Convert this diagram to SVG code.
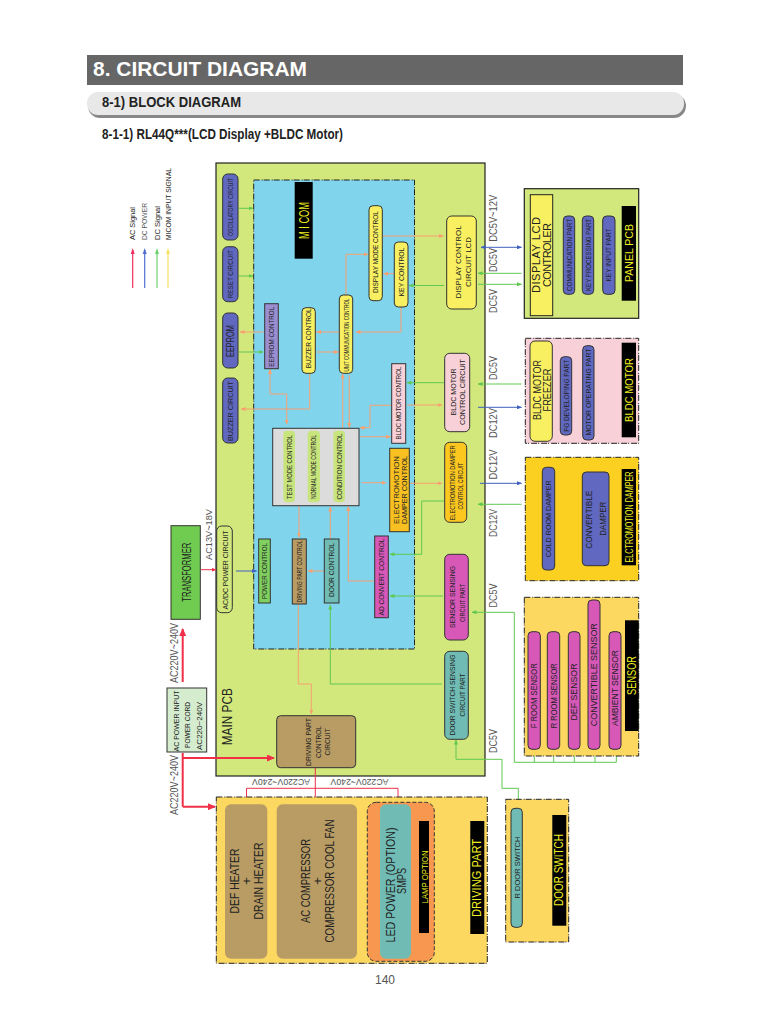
<svg xmlns="http://www.w3.org/2000/svg" width="768" height="1024" viewBox="0 0 768 1024">
<style>
text{font-family:"Liberation Sans",Arial,sans-serif;fill:#222}
.v{text-anchor:middle;dominant-baseline:central}
.h{font-weight:bold}
.y{fill:#eeee20}
.g{fill:#555}
.n{stroke:#333;stroke-width:1}
.blue{fill:#6068c0}.mag{fill:#d858b8}.teal{fill:#70bcb4}.yel{fill:#f8f060}.tan{fill:#b89c64}.pink{fill:#f8d0d8}.blk{fill:#000}
.dash{stroke:#222;stroke-width:1;stroke-dasharray:6 2 1 1}
#connectors path,#connectors line{fill:none;stroke-width:1}
.o{stroke:#f8a070;marker-end:url(#ao)}
.ob{stroke:#f8a070;marker-end:url(#ao);marker-start:url(#aos)}
.gr{stroke:#60c850;marker-end:url(#ag)}
.grn{stroke:#60c850}
.b{stroke:#4060c0;marker-end:url(#ab)}
.bb{stroke:#4060c0;marker-end:url(#ab);marker-start:url(#abs)}
.r{stroke:#f03048;marker-end:url(#ar)}
.rt{stroke:#f03048;stroke-width:2!important;marker-end:url(#ar2)}
.rtn{stroke:#f03048;stroke-width:2!important}
</style>
<defs>
<marker id="ao" markerUnits="userSpaceOnUse" markerWidth="5" markerHeight="4" refX="4.5" refY="2" orient="auto"><path d="M0 0L5 2L0 4Z" fill="#f8a070"/></marker>
<marker id="aos" markerUnits="userSpaceOnUse" markerWidth="5" markerHeight="4" refX="0.5" refY="2" orient="auto"><path d="M5 0L0 2L5 4Z" fill="#f8a070"/></marker>
<marker id="ag" markerUnits="userSpaceOnUse" markerWidth="5" markerHeight="4" refX="4.5" refY="2" orient="auto"><path d="M0 0L5 2L0 4Z" fill="#60c850"/></marker>
<marker id="ab" markerUnits="userSpaceOnUse" markerWidth="5" markerHeight="4" refX="4.5" refY="2" orient="auto"><path d="M0 0L5 2L0 4Z" fill="#4060c0"/></marker>
<marker id="abs" markerUnits="userSpaceOnUse" markerWidth="5" markerHeight="4" refX="0.5" refY="2" orient="auto"><path d="M5 0L0 2L5 4Z" fill="#4060c0"/></marker>
<marker id="ar" markerUnits="userSpaceOnUse" markerWidth="5" markerHeight="4" refX="4.5" refY="2" orient="auto"><path d="M0 0L5 2L0 4Z" fill="#f03048"/></marker>
<marker id="ar2" markerUnits="userSpaceOnUse" markerWidth="8" markerHeight="7" refX="7" refY="3.5" orient="auto"><path d="M0 0L8 3.5L0 7Z" fill="#f03048"/></marker>
</defs>

<g id="header">
<rect x="87" y="55" width="596" height="30" fill="#666"/>
<text x="93" y="76" font-size="20" font-weight="bold" style="fill:#fff" textLength="214" lengthAdjust="spacingAndGlyphs">8. CIRCUIT DIAGRAM</text>
<rect x="88" y="94" width="598" height="24" rx="12" fill="#888"/>
<rect x="87" y="92" width="597" height="23" rx="11" fill="#e8e8e8"/>
<text class="h" x="102" y="107" font-size="14" textLength="139" lengthAdjust="spacingAndGlyphs">8-1)  BLOCK DIAGRAM</text>
<text class="h" x="102" y="139" font-size="14" textLength="241" lengthAdjust="spacingAndGlyphs">8-1-1)  RL44Q***(LCD Display +BLDC Motor)</text>
</g>

<g id="legend">
<text transform="translate(132,240) rotate(-90)" font-size="7" dominant-baseline="central" textLength="33" lengthAdjust="spacingAndGlyphs">AC  Signal</text>
<text transform="translate(144.5,240) rotate(-90)" font-size="7" dominant-baseline="central" textLength="37" lengthAdjust="spacingAndGlyphs" class="g">DC POWER</text>
<text transform="translate(157,240) rotate(-90)" font-size="7" dominant-baseline="central" textLength="34" lengthAdjust="spacingAndGlyphs">DC  Signal</text>
<text transform="translate(168,240) rotate(-90)" font-size="7" dominant-baseline="central" textLength="72" lengthAdjust="spacingAndGlyphs">MICOM INPUT SIGNAL</text>
<path d="M132.7 288V250" stroke="#f03060" stroke-width="1.2" fill="none"/><path d="M132.7 248l-2 6h4z" fill="#f03060"/>
<path d="M144.7 288V250" stroke="#5070d0" stroke-width="1.2" fill="none"/><path d="M144.7 248l-2 6h4z" fill="#5070d0"/>
<path d="M157 288V250" stroke="#70d070" stroke-width="1.2" fill="none"/><path d="M157 248l-2 6h4z" fill="#70d070"/>
<path d="M168 288V250" stroke="#f8e060" stroke-width="1.2" fill="none"/><path d="M168 248l-2 6h4z" fill="#f8e060"/>
</g>

<g id="main-pcb">
<rect x="216" y="163" width="269" height="613" fill="#d2e87c" stroke="#222" stroke-width="1.2"/>
<text class="v" transform="translate(227,716.7) rotate(-90)" font-size="14" textLength="57" lengthAdjust="spacingAndGlyphs">MAIN PCB</text>
</g>
<g id="micom-area"><rect x="253.7" y="180" width="160.8" height="469" fill="#80d4ec" class="dash"/></g>

<g id="connectors">
<line class="gr" x1="239" y1="208.3" x2="253" y2="208.3"/>
<line class="gr" x1="239" y1="276" x2="253" y2="276"/>
<line class="o" x1="263.5" y1="332" x2="240" y2="332"/>
<line class="gr" x1="239" y1="352" x2="263" y2="352"/>
<path class="o" d="M309.7 373.3V409H241"/>
<path class="ob" d="M270 369.5V394H286.7V424"/>
<line class="o" x1="339" y1="332" x2="316.5" y2="332"/>
<line class="o" x1="317" y1="352" x2="338.5" y2="352"/>
<path class="o" d="M346 295V254.3H368"/>
<line class="o" x1="394" y1="273.7" x2="383.5" y2="273.7"/>
<path class="o" d="M401 307V332H356"/>
<line class="o" x1="383" y1="236" x2="443.5" y2="236"/>
<line class="gr" x1="444" y1="285.5" x2="409" y2="285.5"/>
<line class="o" x1="342.7" y1="428" x2="342.7" y2="374"/>
<line class="o" x1="349.3" y1="375" x2="349.3" y2="427.5"/>
<path class="o" d="M391 405.3H370V427.7H360"/>
<line class="o" x1="360" y1="436.7" x2="390.5" y2="436.7"/>
<line class="gr" x1="444" y1="382.7" x2="407" y2="382.7"/>
<line class="o" x1="407" y1="405" x2="442" y2="405"/>
<line class="o" x1="361.7" y1="482.7" x2="386" y2="482.7"/>
<line class="o" x1="410" y1="483.3" x2="442" y2="483.3"/>
<path class="gr" d="M444 501H421.7V554.3H390"/>
<line class="gr" x1="443" y1="596" x2="390" y2="596"/>
<path class="o" d="M374 581H348.3V506.5"/>
<line class="o" x1="330.3" y1="539" x2="330.3" y2="507"/>
<line class="o" x1="299" y1="506" x2="299" y2="537"/>
<line class="o" x1="324" y1="571" x2="308" y2="571"/>
<path class="o" d="M298.3 604V684H311.3V714"/>
<path class="gr" d="M442 684H330.3V605"/>
<line class="b" x1="236" y1="571" x2="256.5" y2="571"/>
<line class="r" x1="201" y1="569.7" x2="216" y2="569.7"/>
<line class="rt" x1="182.7" y1="682" x2="182.7" y2="629"/>
<path class="rtn" d="M182.7 753V806.7"/>
<line class="rt" x1="182.7" y1="758" x2="274" y2="758"/>
<path class="rt" d="M182.7 806.7H215"/>
<line class="r" x1="315.3" y1="767.7" x2="315.3" y2="802"/>
<path class="r" d="M315.3 788.3H246.5V802"/>
<path class="r" d="M315.3 788.3H398V802"/>
<path class="gr" d="M514.3 762.3V612.3H472"/>
<path class="grn" d="M514.3 762.3H616.3V749M534.3 762.3V749M553.7 762.3V749M574.3 762.3V749M595 762.3V749"/>
<path class="gr" d="M518.3 808V788.3H502V759.3H456V740"/>
<line class="bb" x1="481" y1="247.3" x2="521.5" y2="247.3"/>
<line class="gr" x1="521.5" y1="273.3" x2="478" y2="273.3"/>
<line class="gr" x1="478" y1="284.3" x2="521.5" y2="284.3"/>
<line class="gr" x1="521.5" y1="384" x2="478" y2="384"/>
<line class="b" x1="478" y1="407.3" x2="521.5" y2="407.3"/>
<line class="b" x1="480" y1="483.3" x2="521.5" y2="483.3"/>
<line class="gr" x1="521.5" y1="504.3" x2="478" y2="504.3"/>
<path d="M281 409h10q-1 4-5 4t-5-4z" fill="#fff"/>
</g>

<g id="oscillatory"><rect class="n blue" x="222.7" y="174" width="15.3" height="66" rx="5"/><text class="v" transform="translate(230.3,207) rotate(-90)" font-size="7.5" textLength="58" lengthAdjust="spacingAndGlyphs">OSCILLATORY CIRCUIT</text></g>
<g id="reset"><rect class="n blue" x="222.7" y="246.7" width="15.3" height="55" rx="5"/><text class="v" transform="translate(230.3,274.2) rotate(-90)" font-size="8" textLength="48" lengthAdjust="spacingAndGlyphs">RESET CIRCUIT</text></g>
<g id="eeprom"><rect class="n blue" x="222.7" y="313" width="15.3" height="55" rx="5"/><text class="v" transform="translate(230.3,341) rotate(-90)" font-size="10.5" textLength="32" lengthAdjust="spacingAndGlyphs">EEPROM</text></g>
<g id="buzzer"><rect class="n blue" x="222.7" y="378" width="15.3" height="65" rx="5"/><text class="v" transform="translate(230.3,411) rotate(-90)" font-size="8" textLength="60" lengthAdjust="spacingAndGlyphs">BUZZER CIRCUIT</text></g>
<g id="acdc"><rect class="n" fill="#d2e87c" x="216.7" y="526" width="15.6" height="86.7" rx="5"/><text class="v" transform="translate(225,570) rotate(-90)" font-size="7.5" textLength="79" lengthAdjust="spacingAndGlyphs">AC/DC POWER CIRCUIT</text></g>

<g id="micom"><rect class="blk" x="294.7" y="182" width="18" height="76.7"/><text class="v y" transform="translate(303.7,220.5) rotate(-90)" font-size="14" textLength="37" lengthAdjust="spacingAndGlyphs">M I COM</text></g>
<g id="display-mode"><rect class="n yel" x="369" y="205.7" width="13.3" height="95" rx="4"/><text class="v" transform="translate(375.7,252) rotate(-90)" font-size="8" textLength="82" lengthAdjust="spacingAndGlyphs">DISPLAY MODE CONTROL</text></g>
<g id="key-control"><rect class="n yel" x="394.3" y="242" width="13.7" height="65" rx="4"/><text class="v" transform="translate(401.2,272) rotate(-90)" font-size="8" textLength="49" lengthAdjust="spacingAndGlyphs">KEY CONTROL</text></g>
<g id="unit-comm"><rect class="n yel" x="339.3" y="295" width="13.4" height="78.3" rx="4"/><text class="v" transform="translate(346,335) rotate(-90)" font-size="7.5" textLength="73" lengthAdjust="spacingAndGlyphs">UNIT COMMUNICATION CONTROL</text></g>
<g id="buzzer-control"><rect class="n yel" x="302" y="307.7" width="13.3" height="65.6" rx="4"/><text class="v" transform="translate(308.7,338.3) rotate(-90)" font-size="8" textLength="60" lengthAdjust="spacingAndGlyphs">BUZZER CONTROL</text></g>
<g id="eeprom-control"><rect class="n" fill="#9a8ed0" x="264.7" y="303.7" width="13.6" height="65"/><text class="v" transform="translate(271.5,336.7) rotate(-90)" font-size="8" textLength="60" lengthAdjust="spacingAndGlyphs">EEPROM CONTROL</text></g>
<g id="bldc-control"><rect class="n pink" x="391.7" y="363.7" width="14" height="79.6"/><text class="v" transform="translate(398.7,403) rotate(-90)" font-size="7.5" textLength="73" lengthAdjust="spacingAndGlyphs">BLDC MOTOR CONTROL</text></g>

<g id="mode-box">
<rect x="272.7" y="428.3" width="86.3" height="77.4" fill="#dcdcdc" stroke="#333"/>
<rect x="283.3" y="430.7" width="11.7" height="71.6" rx="4" fill="#c8e47c"/>
<rect x="307.7" y="430.7" width="12.3" height="71.6" rx="4" fill="#c8e47c"/>
<rect x="333.3" y="430.7" width="11.7" height="71.6" rx="4" fill="#c8e47c"/>
<text class="v" transform="translate(289.2,467) rotate(-90)" font-size="7.5" textLength="64" lengthAdjust="spacingAndGlyphs">TEST MODE CONTROL</text>
<text class="v" transform="translate(313.8,467) rotate(-90)" font-size="7" textLength="64" lengthAdjust="spacingAndGlyphs">NORMAL MODE CONTROL</text>
<text class="v" transform="translate(339.2,466.5) rotate(-90)" font-size="7.5" textLength="66" lengthAdjust="spacingAndGlyphs">CONDITION CONTROL</text>
</g>
<g id="electromotion-control"><rect class="n" fill="#f8c020" x="389.7" y="448.3" width="19.6" height="83.4"/><text transform="translate(396,490) rotate(-90)" class="v" font-size="8" textLength="68" lengthAdjust="spacingAndGlyphs">ELECTROMOTION</text><text transform="translate(404,490) rotate(-90)" class="v" font-size="8" textLength="68" lengthAdjust="spacingAndGlyphs">DAMPER CONTROL</text></g>
<g id="ad-convert"><rect class="n mag" x="374.7" y="536" width="13.6" height="81.7"/><text class="v" transform="translate(381.5,577) rotate(-90)" font-size="7.5" textLength="77" lengthAdjust="spacingAndGlyphs">AD CONVERT CONTROL</text></g>
<g id="power-control"><rect class="n" fill="#80d060" x="258.7" y="539" width="11.6" height="64"/><text class="v" transform="translate(264.5,571) rotate(-90)" font-size="7.5" textLength="56" lengthAdjust="spacingAndGlyphs">POWER CONTROL</text></g>
<g id="driving-control"><rect class="n tan" x="292.3" y="539" width="14" height="65"/><text class="v" transform="translate(299.3,571.5) rotate(-90)" font-size="6.5" textLength="62" lengthAdjust="spacingAndGlyphs">DRIVING PART CONTROL</text></g>
<g id="door-control"><rect class="n teal" x="324.3" y="539" width="14.7" height="64"/><text class="v" transform="translate(331.7,570) rotate(-90)" font-size="8" textLength="54" lengthAdjust="spacingAndGlyphs">DOOR CONTROL</text></g>

<g id="transformer"><rect class="n" fill="#70cc50" x="171" y="525.7" width="29.3" height="93.6"/><text class="v" transform="translate(186.5,572.2) rotate(-90)" font-size="12" textLength="59" lengthAdjust="spacingAndGlyphs">TRANSFORMER</text></g>
<g id="ac-input"><rect class="n" fill="#d5eccf" x="167" y="688" width="39.7" height="64"/>
<text transform="translate(176.3,721) rotate(-90)" class="v" font-size="8" textLength="61" lengthAdjust="spacingAndGlyphs">AC POWER INPUT</text>
<text transform="translate(187,725) rotate(-90)" class="v" font-size="8" textLength="46" lengthAdjust="spacingAndGlyphs">POWER  CORD</text>
<text transform="translate(199.5,726) rotate(-90)" class="v" font-size="8" textLength="48" lengthAdjust="spacingAndGlyphs">AC220~240V</text></g>
<g id="driving-circuit"><rect class="n tan" x="276.7" y="715.7" width="79" height="52" rx="4"/>
<text transform="translate(308,742) rotate(-90)" class="v" font-size="8" textLength="48" lengthAdjust="spacingAndGlyphs">DRIVING PART</text>
<text transform="translate(318,742) rotate(-90)" class="v" font-size="8" textLength="32" lengthAdjust="spacingAndGlyphs">CONTROL</text>
<text transform="translate(327,742) rotate(-90)" class="v" font-size="8" textLength="27" lengthAdjust="spacingAndGlyphs">CIRCUIT</text></g>

<g id="display-circuit"><rect class="n yel" x="446.7" y="216" width="29.6" height="93" rx="5"/>
<text transform="translate(458,262) rotate(-90)" class="v" font-size="8" textLength="73" lengthAdjust="spacingAndGlyphs">DISPLAY CONTROL</text>
<text transform="translate(468,262) rotate(-90)" class="v" font-size="8" textLength="50" lengthAdjust="spacingAndGlyphs">CIRCUIT LCD</text></g>
<g id="bldc-circuit"><rect class="n pink" x="444.7" y="353.3" width="25" height="78.4" rx="5"/>
<text transform="translate(453,392) rotate(-90)" class="v" font-size="8" textLength="47" lengthAdjust="spacingAndGlyphs">BLDC MOTOR</text>
<text transform="translate(462,392) rotate(-90)" class="v" font-size="8" textLength="66" lengthAdjust="spacingAndGlyphs">CONTROL CIRCUIT</text></g>
<g id="electro-circuit"><rect class="n" fill="#fcc820" x="444.7" y="442.3" width="22" height="80" rx="5"/>
<text transform="translate(452,483) rotate(-90)" class="v" font-size="7" textLength="75" lengthAdjust="spacingAndGlyphs">ELECTROMOTION DAMPER</text>
<text transform="translate(460,486) rotate(-90)" class="v" font-size="7" textLength="47" lengthAdjust="spacingAndGlyphs">CONTROL CIRCUIT</text></g>
<g id="sensor-circuit"><rect class="n mag" x="444.7" y="554.3" width="23.6" height="85.7" rx="5"/>
<text transform="translate(452,597) rotate(-90)" class="v" font-size="8" textLength="62" lengthAdjust="spacingAndGlyphs">SENSOR SENSING</text>
<text transform="translate(462,603) rotate(-90)" class="v" font-size="8" textLength="38" lengthAdjust="spacingAndGlyphs">CIRCUIT PART</text></g>
<g id="door-circuit"><rect class="n teal" x="444.7" y="651.3" width="23.6" height="88" rx="5"/>
<text transform="translate(452,695) rotate(-90)" class="v" font-size="8" textLength="81" lengthAdjust="spacingAndGlyphs">DOOR SWITCH SENSING</text>
<text transform="translate(462,695) rotate(-90)" class="v" font-size="8" textLength="43" lengthAdjust="spacingAndGlyphs">CIRCUIT PART</text></g>

<g id="panel-pcb">
<rect x="524.3" y="188.7" width="114.4" height="129.6" fill="#d2e87c" stroke="#222" stroke-width="1.2"/>
<rect x="530.3" y="194.7" width="22.4" height="121" fill="#f8f060" stroke="#222"/>
<text transform="translate(536,255) rotate(-90)" class="v" font-size="11" textLength="76" lengthAdjust="spacing">DISPLAY LCD</text>
<text transform="translate(547,255) rotate(-90)" class="v" font-size="11" textLength="64" lengthAdjust="spacing">CONTROLER</text>
<rect class="n blue" x="563.3" y="216" width="11.4" height="78.3" rx="4"/><text class="v" transform="translate(569,255) rotate(-90)" font-size="7" textLength="72" lengthAdjust="spacingAndGlyphs">COMMUNICATION PART</text>
<rect class="n blue" x="582.3" y="216" width="11.4" height="78.3" rx="4"/><text class="v" transform="translate(588,255) rotate(-90)" font-size="7" textLength="72" lengthAdjust="spacingAndGlyphs">KEY PROCESSING PART</text>
<rect class="n blue" x="602.7" y="216" width="12.3" height="78.3" rx="4"/><text class="v" transform="translate(608.8,255) rotate(-90)" font-size="7" textLength="53" lengthAdjust="spacingAndGlyphs">KEY INPUT PART</text>
<rect class="blk" x="621.7" y="206" width="14.3" height="94.7"/><text class="v y" transform="translate(629,253) rotate(-90)" font-size="11.5" textLength="58" lengthAdjust="spacingAndGlyphs">PANEL  PCB</text>
</g>
<g id="bldc-motor">
<rect class="dash pink" x="525.3" y="338.3" width="113.4" height="105"/>
<rect class="n yel" x="530" y="341" width="22.3" height="100.3" rx="5"/>
<text transform="translate(537,390) rotate(-90)" class="v" font-size="10.5" textLength="60" lengthAdjust="spacingAndGlyphs">BLDC MOTOR</text>
<text transform="translate(547,390) rotate(-90)" class="v" font-size="10.5" textLength="43" lengthAdjust="spacingAndGlyphs">FREEZER</text>
<rect class="n blue" x="560.3" y="356.7" width="11.4" height="78.3" rx="4"/><text class="v" transform="translate(566,395.8) rotate(-90)" font-size="7" textLength="72" lengthAdjust="spacingAndGlyphs">FG DEVELOPING PART</text>
<rect class="n blue" x="582.7" y="345.7" width="11.3" height="94.3" rx="4"/><text class="v" transform="translate(588.3,392) rotate(-90)" font-size="7" textLength="87" lengthAdjust="spacingAndGlyphs">MOTOR OPERATING PART</text>
<rect class="blk" x="621.7" y="342.7" width="14.3" height="94.6"/><text class="v y" transform="translate(629,390) rotate(-90)" font-size="11.5" textLength="64" lengthAdjust="spacingAndGlyphs">BLDC  MOTOR</text>
</g>
<g id="damper">
<rect class="dash" fill="#fcd020" x="525.3" y="457.3" width="113.4" height="123.4"/>
<rect class="n blue" x="542.3" y="467.3" width="12.4" height="102.7" rx="4"/><text class="v" transform="translate(548.5,518.7) rotate(-90)" font-size="7" textLength="77" lengthAdjust="spacingAndGlyphs">COLD ROOM DAMPER</text>
<rect class="n blue" x="582.3" y="472" width="26.7" height="93.7" rx="4"/>
<text transform="translate(589,519.7) rotate(-90)" class="v" font-size="8.5" textLength="58" lengthAdjust="spacingAndGlyphs">CONVERTIBLE</text>
<text transform="translate(603,518.7) rotate(-90)" class="v" font-size="8.5" textLength="34" lengthAdjust="spacingAndGlyphs">DAMPER</text>
<rect class="blk" x="621.7" y="469" width="14.3" height="96.3"/><text class="v y" transform="translate(629,517) rotate(-90)" font-size="11" textLength="91" lengthAdjust="spacingAndGlyphs">ELCTROMOTION DAMPER</text>
</g>
<g id="sensor">
<rect class="dash" fill="#fcd860" x="524.3" y="597.3" width="114.4" height="158.7"/>
<rect class="n mag" x="528" y="631.7" width="12.3" height="117.6" rx="4"/><text class="v" transform="translate(534.2,695.8) rotate(-90)" font-size="8.5" textLength="65" lengthAdjust="spacingAndGlyphs">F  ROOM    SENSOR</text>
<rect class="n mag" x="547.3" y="631.7" width="12.4" height="117.6" rx="4"/><text class="v" transform="translate(553.5,695.8) rotate(-90)" font-size="8.5" textLength="65" lengthAdjust="spacingAndGlyphs">R  ROOM    SENSOR</text>
<rect class="n mag" x="568.3" y="631.7" width="11.7" height="117.6" rx="4"/><text class="v" transform="translate(574.2,692) rotate(-90)" font-size="8.5" textLength="57" lengthAdjust="spacingAndGlyphs">DEF    SENSOR</text>
<rect class="n mag" x="588" y="600" width="12" height="149.3" rx="4"/><text class="v" transform="translate(594,674.7) rotate(-90)" font-size="8.5" textLength="103" lengthAdjust="spacingAndGlyphs">CONVERTIBLE    SENSOR</text>
<rect class="n mag" x="609" y="631.7" width="12" height="117.6" rx="4"/><text class="v" transform="translate(615,688) rotate(-90)" font-size="8.5" textLength="76" lengthAdjust="spacingAndGlyphs">AMBIENT   SENSOR</text>
<rect class="blk" x="625" y="620.3" width="13.7" height="110.7"/><text class="v y" transform="translate(632,675.5) rotate(-90)" font-size="12.5" textLength="39" lengthAdjust="spacingAndGlyphs">SENSOR</text>
</g>
<g id="driving-part">
<rect class="dash" fill="#fcd860" x="216.3" y="797" width="271" height="166.3"/>
<rect class="tan" x="225" y="804.3" width="42.3" height="154.4" rx="6"/>
<text transform="translate(234,881) rotate(-90)" class="v" font-size="13.5" textLength="65" lengthAdjust="spacingAndGlyphs">DEF  HEATER</text>
<text transform="translate(246,881) rotate(-90)" class="v" font-size="13.5">+</text>
<text transform="translate(258,881) rotate(-90)" class="v" font-size="13.5" textLength="77" lengthAdjust="spacingAndGlyphs">DRAIN  HEATER</text>
<rect class="tan" x="276.7" y="804.3" width="80.3" height="154.4" rx="6"/>
<text transform="translate(305,881) rotate(-90)" class="v" font-size="13.5" textLength="84" lengthAdjust="spacingAndGlyphs">AC COMPRESSOR</text>
<text transform="translate(317,881) rotate(-90)" class="v" font-size="13.5">+</text>
<text transform="translate(329.7,881) rotate(-90)" class="v" font-size="13.5" textLength="123" lengthAdjust="spacingAndGlyphs">COMPRESSOR  COOL  FAN</text>
<rect x="367.3" y="802.3" width="67" height="159" rx="9" fill="#f89850" stroke="#333" stroke-dasharray="4 2"/>
<rect class="teal" x="380" y="804.3" width="31" height="154.4" rx="6"/>
<text transform="translate(390,885) rotate(-90)" class="v" font-size="13.5" textLength="115" lengthAdjust="spacingAndGlyphs">LED POWER (OPTION)</text>
<text transform="translate(401.5,881) rotate(-90)" class="v" font-size="13" textLength="26" lengthAdjust="spacingAndGlyphs">SMPS</text>
<rect class="blk" x="419" y="821" width="10" height="112"/><text class="v y" transform="translate(424,877) rotate(-90)" font-size="9.5" textLength="53" lengthAdjust="spacingAndGlyphs">LAMP  OPTION</text>
<rect class="blk" x="470.3" y="821" width="14" height="113"/><text class="v y" transform="translate(477.3,878) rotate(-90)" font-size="12.5" textLength="78" lengthAdjust="spacingAndGlyphs">DRIVING PART</text>
</g>
<g id="door-switch">
<rect class="dash" fill="#fcd860" x="505.7" y="799.3" width="63" height="142.7"/>
<rect class="n teal" x="511" y="808.3" width="11.3" height="119" rx="4"/><text class="v" transform="translate(517,867.5) rotate(-90)" font-size="7.5" textLength="62" lengthAdjust="spacingAndGlyphs">R  DOOR  SWITCH</text>
<rect class="blk" x="552.3" y="815" width="14" height="110.7"/><text class="v y" transform="translate(559.3,870) rotate(-90)" font-size="12.5" textLength="72" lengthAdjust="spacingAndGlyphs">DOOR  SWITCH</text>
</g>

<g id="voltage-labels">
<text class="v g" transform="translate(493.3,218.3) rotate(-90)" font-size="10" textLength="47" lengthAdjust="spacingAndGlyphs">DC5V~12V</text>
<text class="v g" transform="translate(493.3,260) rotate(-90)" font-size="10" textLength="24" lengthAdjust="spacingAndGlyphs">DC5V</text>
<text class="v g" transform="translate(493.3,301) rotate(-90)" font-size="10" textLength="24" lengthAdjust="spacingAndGlyphs">DC5V</text>
<text class="v g" transform="translate(493.3,368) rotate(-90)" font-size="10" textLength="24" lengthAdjust="spacingAndGlyphs">DC5V</text>
<text class="v g" transform="translate(493.3,423) rotate(-90)" font-size="10" textLength="30" lengthAdjust="spacingAndGlyphs">DC12V</text>
<text class="v g" transform="translate(493.3,464.5) rotate(-90)" font-size="10" textLength="30" lengthAdjust="spacingAndGlyphs">DC12V</text>
<text class="v g" transform="translate(493.3,523) rotate(-90)" font-size="10" textLength="28" lengthAdjust="spacingAndGlyphs">DC12V</text>
<text class="v g" transform="translate(493.3,595.5) rotate(-90)" font-size="10" textLength="24" lengthAdjust="spacingAndGlyphs">DC5V</text>
<text class="v g" transform="translate(493.3,741) rotate(-90)" font-size="10" textLength="24" lengthAdjust="spacingAndGlyphs">DC5V</text>
<text class="v g" transform="translate(208,534.5) rotate(-90)" font-size="9.5" textLength="51" lengthAdjust="spacingAndGlyphs">AC13V~18V</text>
<text class="v g" transform="translate(174.3,653) rotate(-90)" font-size="10" textLength="60" lengthAdjust="spacingAndGlyphs">AC220V~240V</text>
<text class="v g" transform="translate(174.3,785) rotate(-90)" font-size="10" textLength="60" lengthAdjust="spacingAndGlyphs">AC220V~240V</text>
<text class="v g" transform="translate(281,782) rotate(180)" font-size="9" textLength="58" lengthAdjust="spacingAndGlyphs">AC220V~240V</text>
<text class="v g" transform="translate(359.5,782) rotate(180)" font-size="9" textLength="58" lengthAdjust="spacingAndGlyphs">AC220V~240V</text>
</g>
<text x="385" y="984" font-size="12" text-anchor="middle" style="fill:#555">140</text>
</svg>
